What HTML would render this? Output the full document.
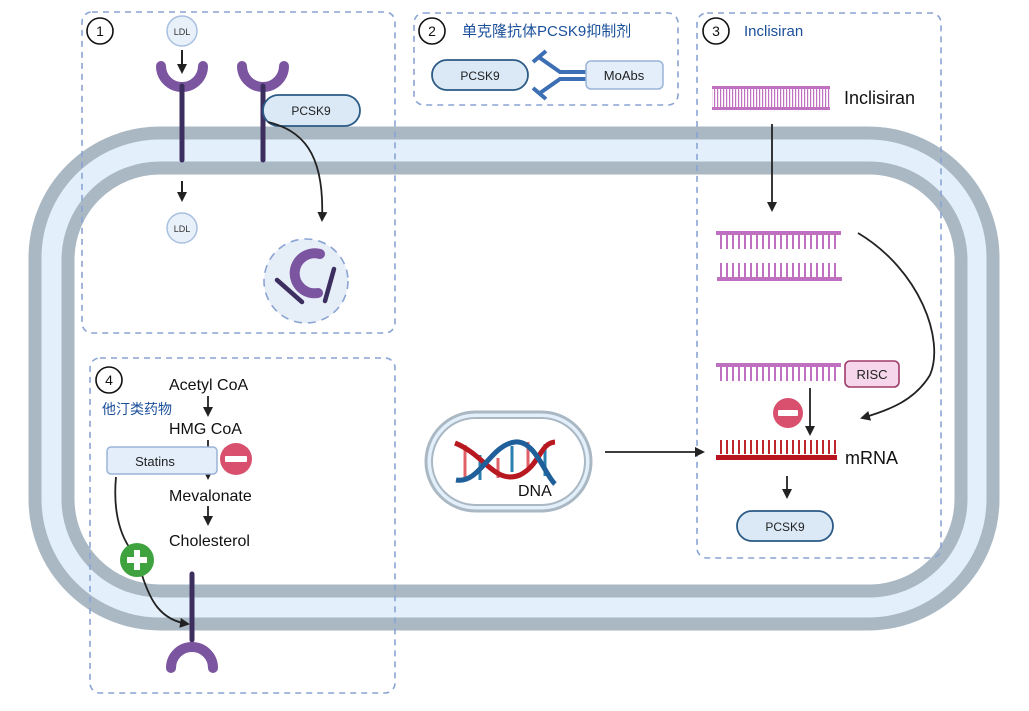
<!DOCTYPE html>
<html><head><meta charset="utf-8"><style>
body{margin:0;background:#fff}
svg{display:block}
text{font-family:"Liberation Sans","Noto Sans CJK SC",sans-serif}
</style></head><body>
<svg width="1029" height="711" viewBox="0 0 1029 711" xmlns="http://www.w3.org/2000/svg">
<defs>
<marker id="ah" markerWidth="10" markerHeight="10" refX="8" refY="5" orient="auto" markerUnits="userSpaceOnUse"><path d="M0,0 L10,5 L0,10 z" fill="#222"/></marker>
<pattern id="teethP" width="6" height="10" patternUnits="userSpaceOnUse"><rect x="0" y="0" width="2" height="10" fill="#c070c0"/></pattern>
<pattern id="teethR" width="6" height="14" patternUnits="userSpaceOnUse"><rect x="0" y="0" width="2" height="14" fill="#c0262e"/></pattern>
<pattern id="teethF" width="3" height="20" patternUnits="userSpaceOnUse"><rect x="0" y="0" width="1.2" height="20" fill="#c070c0"/></pattern>
</defs>
<!-- cell -->
<rect x="35" y="133" width="958" height="491" rx="125" fill="#e3f0fc" stroke="#aab8c4" stroke-width="13"/>
<rect x="68" y="168" width="893" height="423" rx="92" fill="#fff" stroke="#aab8c4" stroke-width="13"/>

<!-- dashed boxes -->
<g fill="none" stroke="#8aa4d4" stroke-width="1.6" stroke-dasharray="6,5">
<rect x="82" y="12" width="313" height="321" rx="10"/>
<rect x="414" y="13" width="264" height="92" rx="10"/>
<rect x="697" y="13" width="244" height="545" rx="10"/>
<rect x="90" y="358" width="305" height="335" rx="10"/>
</g>

<!-- numbers -->
<g fill="#fff" stroke="#111" stroke-width="1.6">
<circle cx="100" cy="31" r="13"/><circle cx="432" cy="31" r="13"/><circle cx="716" cy="31" r="13"/><circle cx="109" cy="380" r="13"/>
</g>
<g font-size="14" text-anchor="middle" fill="#111">
<text x="100" y="36">1</text><text x="432" y="36">2</text><text x="716" y="36">3</text><text x="109" y="385">4</text>
</g>

<!-- Box 1 -->
<circle cx="182" cy="31" r="15" fill="#e8f0fa" stroke="#a8c0e0" stroke-width="1.5"/>
<text x="182" y="35" font-size="9" text-anchor="middle" fill="#333">LDL</text>
<line x1="182" y1="50" x2="182" y2="72" stroke="#222" stroke-width="2" marker-end="url(#ah)"/>
<path d="M161,66 A21,21 0 0 0 203,66" fill="none" stroke="#7b55a0" stroke-width="10" stroke-linecap="round"/>
<line x1="182" y1="86" x2="182" y2="160" stroke="#3d2e60" stroke-width="5" stroke-linecap="round"/>
<path d="M242,66 A21,21 0 0 0 284,66" fill="none" stroke="#7b55a0" stroke-width="10" stroke-linecap="round"/>
<line x1="263" y1="86" x2="263" y2="160" stroke="#3d2e60" stroke-width="5" stroke-linecap="round"/>
<rect x="263" y="95" width="97" height="31" rx="15.5" fill="#dbe9f7" stroke="#2a5a85" stroke-width="1.8"/>
<text x="311" y="115" font-size="12" text-anchor="middle" fill="#222">PCSK9</text>
<path d="M268,122 C300,130 325,150 322,220" fill="none" stroke="#222" stroke-width="1.8" marker-end="url(#ah)"/>
<line x1="182" y1="181" x2="182" y2="200" stroke="#222" stroke-width="2" marker-end="url(#ah)"/>
<circle cx="182" cy="228" r="15" fill="#e8f0fa" stroke="#a8c0e0" stroke-width="1.5"/>
<text x="182" y="232" font-size="9" text-anchor="middle" fill="#333">LDL</text>
<circle cx="306" cy="281" r="42" fill="#e6eef8" stroke="#8aa4d4" stroke-width="1.6" stroke-dasharray="8,6"/>
<path d="M320,254 A20,20 0 1 0 318,293" fill="none" stroke="#7b55a0" stroke-width="10" stroke-linecap="round"/>
<line x1="277" y1="280" x2="302" y2="302" stroke="#3d2e60" stroke-width="4.5" stroke-linecap="round"/>
<line x1="334" y1="269" x2="325" y2="301" stroke="#3d2e60" stroke-width="4.5" stroke-linecap="round"/>

<!-- Box 2 -->
<text x="462" y="36" font-size="15" fill="#1a4f9a">单克隆抗体PCSK9抑制剂</text>
<rect x="432" y="60" width="96" height="30" rx="15" fill="#dbe9f7" stroke="#2a5a85" stroke-width="1.8"/>
<text x="480" y="80" font-size="12" text-anchor="middle" fill="#222">PCSK9</text>
<g stroke="#3d6fb4" stroke-width="4" fill="none">
<path d="M586,72 L560,72 L540,58"/><path d="M586,79 L560,79 L540,93"/>
<line x1="533" y1="62" x2="546" y2="51"/><line x1="533" y1="88" x2="546" y2="99"/>
</g>
<rect x="586" y="61" width="77" height="28" rx="5" fill="#e3eefa" stroke="#9ab4d8" stroke-width="1.5"/>
<text x="624" y="80" font-size="13" text-anchor="middle" fill="#222">MoAbs</text>

<!-- Box 3 -->
<text x="744" y="36" font-size="15" fill="#1a4f9a">Inclisiran</text>
<rect x="712" y="86" width="118" height="3" fill="#c070c0"/>
<rect x="712" y="89" width="118" height="19" fill="url(#teethF)"/>
<rect x="712" y="107" width="118" height="3" fill="#c070c0"/>
<text x="844" y="104" font-size="18" fill="#111">Inclisiran</text>
<line x1="772" y1="124" x2="772" y2="210" stroke="#222" stroke-width="1.8" marker-end="url(#ah)"/>
<rect x="716" y="231" width="125" height="4" fill="#c070c0"/>
<rect x="718" y="235" width="122" height="14" fill="url(#teethP)"/>
<rect x="718" y="263" width="122" height="14" fill="url(#teethP)"/>
<rect x="717" y="277" width="125" height="4" fill="#c070c0"/>
<path d="M858,233 C920,270 945,340 930,375 C915,400 890,410 862,418" fill="none" stroke="#222" stroke-width="1.8" marker-end="url(#ah)"/>
<rect x="716" y="363" width="125" height="4" fill="#c070c0"/>
<rect x="718" y="367" width="122" height="14" fill="url(#teethP)"/>
<rect x="845" y="361" width="54" height="26" rx="5" fill="#f6d6ea" stroke="#a03a6a" stroke-width="1.6"/>
<text x="872" y="379" font-size="13" text-anchor="middle" fill="#222">RISC</text>
<line x1="810" y1="388" x2="810" y2="434" stroke="#222" stroke-width="1.8" marker-end="url(#ah)"/>
<circle cx="788" cy="413" r="15" fill="#d8506e"/>
<rect x="778" y="410" width="20" height="6" rx="1" fill="#fff"/>
<rect x="718" y="440" width="120" height="14" fill="url(#teethR)"/>
<rect x="716" y="455" width="121" height="5" fill="#b8141f"/>
<text x="845" y="464" font-size="18" fill="#111">mRNA</text>
<line x1="787" y1="476" x2="787" y2="497" stroke="#222" stroke-width="1.8" marker-end="url(#ah)"/>
<rect x="737" y="511" width="96" height="30" rx="15" fill="#dbe9f7" stroke="#2a5a85" stroke-width="1.8"/>
<text x="785" y="531" font-size="12" text-anchor="middle" fill="#222">PCSK9</text>

<!-- DNA -->
<rect x="426" y="412" width="165" height="99" rx="49.5" fill="#e3f0fc" stroke="#aab8c4" stroke-width="3"/>
<rect x="432" y="418" width="153" height="87" rx="43.5" fill="#fff" stroke="#aab8c4" stroke-width="2"/>
<g stroke-width="3">
<line x1="465" y1="445" x2="465" y2="478" stroke="#e06068"/><line x1="480" y1="455" x2="480" y2="480" stroke="#2a7fb0"/>
<line x1="498" y1="458" x2="498" y2="478" stroke="#e06068"/><line x1="512" y1="446" x2="512" y2="472" stroke="#2a7fb0"/>
<line x1="528" y1="442" x2="528" y2="470" stroke="#e06068"/><line x1="545" y1="444" x2="545" y2="476" stroke="#2a7fb0"/>
</g>
<path d="M455,443 C485,455 495,485 520,475 C540,465 540,443 555,442" fill="none" stroke="#b81820" stroke-width="5"/>
<path d="M456,480 C480,484 490,445 515,442 C535,440 545,475 555,484" fill="none" stroke="#1f5f9a" stroke-width="5"/>
<text x="518" y="496" font-size="16" fill="#111">DNA</text>
<line x1="605" y1="452" x2="703" y2="452" stroke="#222" stroke-width="1.8" marker-end="url(#ah)"/>

<!-- Box 4 -->
<text x="102" y="414" font-size="14" fill="#1a4f9a">他汀类药物</text>
<g font-size="16" fill="#111">
<text x="169" y="390">Acetyl CoA</text><text x="169" y="434">HMG CoA</text>
<text x="169" y="501">Mevalonate</text><text x="169" y="546">Cholesterol</text>
</g>
<g stroke="#222" stroke-width="1.8">
<line x1="208" y1="396" x2="208" y2="415" marker-end="url(#ah)"/>
<line x1="208" y1="440" x2="208" y2="478" marker-end="url(#ah)"/>
<line x1="208" y1="506" x2="208" y2="524" marker-end="url(#ah)"/>
</g>
<circle cx="236" cy="459" r="16" fill="#d8506e"/>
<rect x="225" y="456" width="22" height="6" rx="1" fill="#fff"/>
<rect x="107" y="447" width="110" height="27" rx="4" fill="#e3eefa" stroke="#9ab4d8" stroke-width="1.5"/>
<text x="155" y="466" font-size="13" text-anchor="middle" fill="#222">Statins</text>
<path d="M116,477 C112,520 125,545 136,555" fill="none" stroke="#222" stroke-width="1.8"/>
<path d="M142,575 C150,600 160,620 188,624" fill="none" stroke="#222" stroke-width="1.8" marker-end="url(#ah)"/>
<circle cx="137" cy="560" r="17" fill="#3ea23e"/>
<rect x="127" y="557" width="20" height="6" fill="#fff"/><rect x="134" y="550" width="6" height="20" fill="#fff"/>
<line x1="192" y1="574" x2="192" y2="640" stroke="#3d2e60" stroke-width="5" stroke-linecap="round"/>
<path d="M171,668 A21,21 0 0 1 213,668" fill="none" stroke="#7b55a0" stroke-width="10" stroke-linecap="round"/>
</svg>
</body></html>
